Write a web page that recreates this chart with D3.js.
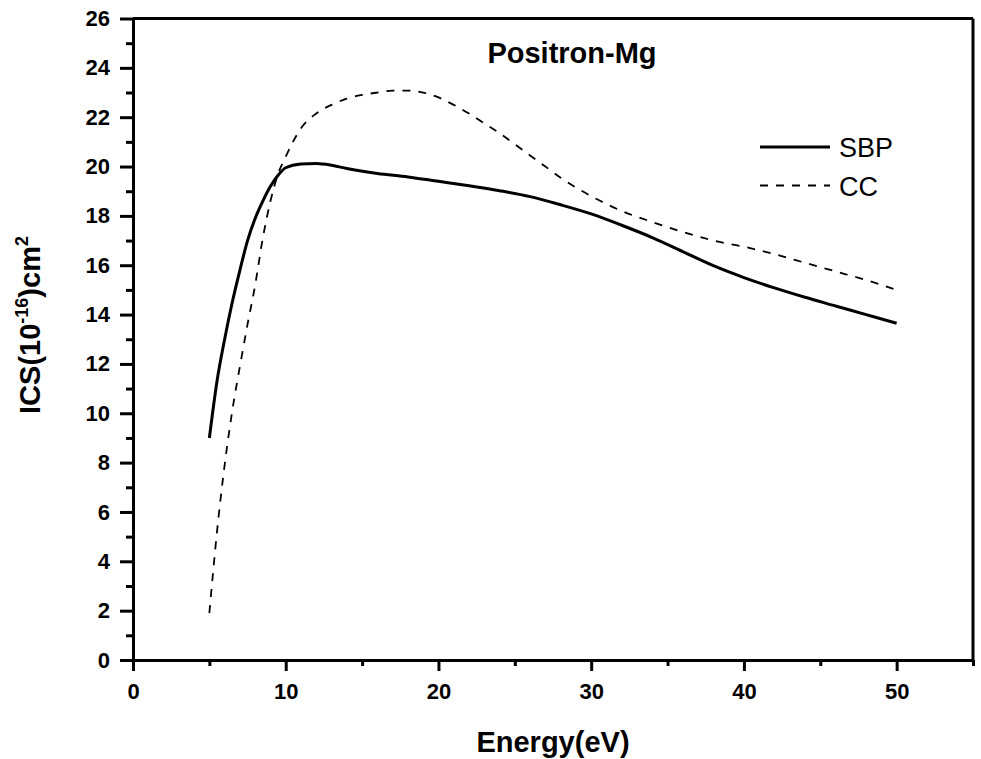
<!DOCTYPE html>
<html>
<head>
<meta charset="utf-8">
<script src="https://cdn.jsdelivr.net/npm/d3@7"></script>
<style>
  body { margin: 0; background: #fff; }
  svg text { font-family: Arial, "Liberation Sans", sans-serif; fill: #000; }
</style>
</head>
<body>
<div id="chart"></div>
<script>
// values
const energy = [5, 5.5, 6, 6.5, 7, 7.5, 8, 8.5, 9, 9.5, 10, 11, 12, 13, 14, 16, 18, 20, 22, 24, 26, 28, 30, 32, 34, 36, 38, 40, 42, 44, 46, 48, 50];
const sbp = [9.0, 11.3, 13.0, 14.5, 15.8, 17.0, 17.9, 18.6, 19.2, 19.65, 19.95, 20.1, 20.12, 20.05, 19.92, 19.72, 19.58, 19.4, 19.22, 19.02, 18.78, 18.45, 18.08, 17.62, 17.12, 16.55, 15.98, 15.5, 15.08, 14.7, 14.35, 14.0, 13.65];

const energyCC = [5, 5.5, 6, 6.5, 7, 7.5, 8, 8.5, 9, 9.5, 10, 11, 12, 13, 14, 15, 16, 17, 18, 19, 20, 21, 22, 23, 24, 25, 26, 27, 28, 29, 30, 32, 34, 36, 38, 40, 42, 44, 46, 48, 50];
const cc = [1.9, 5.2, 7.9, 10.1, 11.9, 13.6, 15.2, 17.1, 18.6, 19.7, 20.4, 21.55, 22.15, 22.5, 22.75, 22.9, 23.0, 23.08, 23.08, 23.0, 22.8, 22.5, 22.15, 21.75, 21.35, 20.9, 20.45, 20.0, 19.55, 19.15, 18.8, 18.2, 17.75, 17.35, 17.0, 16.75, 16.45, 16.1, 15.75, 15.4, 15.0];

const xMajor = [0, 10, 20, 30, 40, 50];
const xMinor = [5, 15, 25, 35, 45, 55];
const yMajor = d3.range(0, 27, 2);
const yMinor = d3.range(1, 26, 2);

const W = 981, H = 759;
const svg = d3.select("#chart").append("svg").attr("width", W).attr("height", H);

const x = d3.scaleLinear().domain([0, 55]).range([133, 973]);
const y = d3.scaleLinear().domain([0, 26]).range([660, 18.5]);

function styleAxis(g) {
  g.selectAll("path, line").attr("stroke", "#000").attr("stroke-width", 3);
  g.selectAll("text").attr("font-size", 22).attr("font-weight", "bold")
    .attr("font-family", "Arial, 'Liberation Sans', sans-serif").attr("fill", "#000");
}

// frame
svg.append("line").attr("x1", x(0)).attr("x2", x(55)).attr("y1", y(26)).attr("y2", y(26))
  .attr("stroke", "#000").attr("stroke-width", 3);
svg.append("line").attr("x1", x(55)).attr("x2", x(55)).attr("y1", y(0)).attr("y2", y(26))
  .attr("stroke", "#000").attr("stroke-width", 3);

// bottom axis
const gx = svg.append("g").attr("transform", `translate(0,${y(0)})`)
  .call(d3.axisBottom(x).tickValues(xMajor).tickSize(11).tickSizeOuter(0).tickPadding(12).tickFormat(d3.format("d")));
styleAxis(gx);
const gxm = svg.append("g").attr("transform", `translate(0,${y(0)})`)
  .call(d3.axisBottom(x).tickValues(xMinor).tickSize(6).tickSizeOuter(0).tickFormat(""));
styleAxis(gxm);
gxm.select(".domain").remove();

// left axis
const gy = svg.append("g").attr("transform", `translate(${x(0)},0)`)
  .call(d3.axisLeft(y).tickValues(yMajor).tickSize(13).tickSizeOuter(0).tickPadding(10).tickFormat(d3.format("d")));
styleAxis(gy);
const gym = svg.append("g").attr("transform", `translate(${x(0)},0)`)
  .call(d3.axisLeft(y).tickValues(yMinor).tickSize(7).tickSizeOuter(0).tickFormat(""));
styleAxis(gym);
gym.select(".domain").remove();

// lines
const line = d3.line().x(d => x(d[0])).y(d => y(d[1])).curve(d3.curveMonotoneX);

svg.append("path").datum(d3.zip(energyCC, cc))
  .attr("fill", "none").attr("stroke", "#000").attr("stroke-width", 1.8)
  .attr("stroke-dasharray", "8,8").attr("d", line);

svg.append("path").datum(d3.zip(energy, sbp))
  .attr("fill", "none").attr("stroke", "#000").attr("stroke-width", 3)
  .attr("d", line);

// title
svg.append("text").attr("x", 572).attr("y", 63).attr("text-anchor", "middle")
  .attr("font-size", 29).attr("font-weight", "bold").text("Positron-Mg");

// axis labels
svg.append("text").attr("x", 553).attr("y", 752).attr("text-anchor", "middle")
  .attr("font-size", 29).attr("font-weight", "bold").text("Energy(eV)");

const yl = svg.append("text").attr("transform", "translate(40,325) rotate(-90)")
  .attr("text-anchor", "middle").attr("font-size", 29).attr("font-weight", "bold");
yl.append("tspan").text("ICS(10");
yl.append("tspan").attr("font-size", 18).attr("dy", -12).text("-16");
yl.append("tspan").attr("dy", 12).text(")cm");
yl.append("tspan").attr("font-size", 18).attr("dy", -12).text("2");

// legend
const legend = [
  { name: "SBP", dash: null, width: 3 },
  { name: "CC", dash: "8,8", width: 1.8 }
];
const lg = svg.append("g");
legend.forEach((d, i) => {
  const ly = 147 + i * 38.5;
  lg.append("line").attr("x1", 760).attr("x2", 830).attr("y1", ly).attr("y2", ly)
    .attr("stroke", "#000").attr("stroke-width", d.width)
    .attr("stroke-dasharray", d.dash);
  lg.append("text").attr("x", 839).attr("y", ly + 10).attr("font-size", 27).text(d.name);
});
</script>
</body>
</html>
